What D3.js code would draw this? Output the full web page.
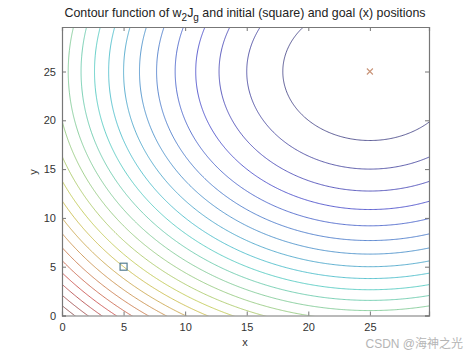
<!DOCTYPE html>
<meta charset="utf-8">
<script src="https://d3js.org/d3.v7.min.js"></script>
<style>
  body { margin: 0; background: #fff; }
  text { font-family: "Liberation Sans", Arial, sans-serif; }
</style>
<div id="chart"></div>
<script>
    // data: J = (x-25)^2 + (y-25)^2 on a grid, contour levels every 50
    var goal = [25, 25];
    var start = [5, 5];
    var levels = [50, 100, 150, 200, 250, 300, 350, 400, 450, 500, 550, 600,
                  650, 700, 750, 800, 850, 900, 950, 1000, 1050, 1100, 1150, 1200];
    var xTicks = [0, 5, 10, 15, 20, 25];
    var yTicks = [0, 5, 10, 15, 20, 25];

    var W = 474, H = 355;
    var margin = { top: 27, right: 45, bottom: 40, left: 62 };
    var width = W - margin.left - margin.right,
        height = 315.5 - margin.top;

    var svg = d3.select("#chart").append("svg")
        .attr("width", W).attr("height", H);

    var g = svg.append("g")
        .attr("transform", "translate(" + margin.left + "," + margin.top + ")");

    var x = d3.scaleLinear().domain([0, 29.8]).range([0, width]);
    var y = d3.scaleLinear().domain([0, 29.56]).range([height, 0]);

    // jet colormap, toned down a little like the washed-out original
    function jet(t) {
        function c(v) { return Math.max(0, Math.min(1, v)); }
        var r = c(1.5 - Math.abs(4 * t - 3)),
            gg = c(1.5 - Math.abs(4 * t - 2)),
            b = c(1.5 - Math.abs(4 * t - 1));
        return d3.interpolateRgb(d3.rgb(r * 255, gg * 255, b * 255), "#3a3a3a")(0.35);
    }

    // grid a bit larger than the axes, so the contour rings close outside the clip
    var x0 = -1, y0 = -1, step = 0.1, n = 321, m = 321;
    var values = new Array(n * m);
    for (var j = 0; j < m; j++) {
        for (var i = 0; i < n; i++) {
            var gx = x0 + i * step, gy = y0 + j * step;
            values[j * n + i] = Math.pow(gx - goal[0], 2) + Math.pow(gy - goal[1], 2);
        }
    }

    var contours = d3.contours().size([n, m]).thresholds(levels)(values);

    var proj = d3.geoTransform({
        point: function (px, py) {
            this.stream.point(x(x0 + (px - 0.5) * step), y(y0 + (py - 0.5) * step));
        }
    });
    var path = d3.geoPath(proj);

    g.append("clipPath").attr("id", "clip")
        .append("rect").attr("width", width).attr("height", height);

    g.append("g").attr("clip-path", "url(#clip)")
        .selectAll("path")
        .data(contours)
        .enter().append("path")
        .attr("d", path)
        .attr("fill", "none")
        .attr("stroke", function (d) { return jet((d.value - levels[0]) / (levels[levels.length - 1] - levels[0])); })
        .attr("stroke-opacity", 0.75)
        .attr("stroke-width", 0.9);

    // markers
    g.append("rect")
        .attr("x", x(start[0]) - 3.5).attr("y", y(start[1]) - 3.5)
        .attr("width", 7).attr("height", 7)
        .attr("fill", "none").attr("stroke", "#567e92").attr("stroke-width", 1.2);

    g.append("path")
        .attr("d", "M" + (x(goal[0]) - 3) + "," + (y(goal[1]) - 3) + "l6,6m0,-6l-6,6")
        .attr("stroke", "#c99478").attr("stroke-width", 1.1);

    // axes (MATLAB style: ticks inside, box on)
    var axColor = "#777";
    var tl = 4;
    var xa = g.append("g").attr("transform", "translate(0," + height + ")")
        .call(d3.axisBottom(x).tickValues(xTicks).tickSize(-tl).tickPadding(8));
    var xt = g.append("g")
        .call(d3.axisTop(x).tickValues(xTicks).tickSize(-tl).tickFormat(""));
    var ya = g.append("g")
        .call(d3.axisLeft(y).tickValues(yTicks).tickSize(-tl).tickPadding(6));
    var yr = g.append("g").attr("transform", "translate(" + width + ",0)")
        .call(d3.axisRight(y).tickValues(yTicks).tickSize(-tl).tickFormat(""));

    [xa, xt, ya, yr].forEach(function (a) {
        a.select(".domain").attr("stroke", axColor).attr("stroke-width", 1.2);
        a.selectAll(".tick line").attr("stroke", axColor);
        a.selectAll("text").attr("fill", "#333").style("font-size", "11px")
            .style("font-family", "'Liberation Sans', Arial, sans-serif");
    });

    // labels
    svg.append("text").attr("x", 245).attr("y", 346)
        .attr("text-anchor", "middle").attr("fill", "#333")
        .style("font-size", "11px").text("x");

    svg.append("text").attr("transform", "translate(37,172) rotate(-90)")
        .attr("text-anchor", "middle").attr("fill", "#333")
        .style("font-size", "11px").text("y");

    var title = svg.append("text").attr("x", 245).attr("y", 16.5)
        .attr("text-anchor", "middle").attr("fill", "#222")
        .style("font-size", "12.4px");
    title.append("tspan").text("Contour function of w");
    title.append("tspan").attr("dy", 4).style("font-size", "10px").text("2");
    title.append("tspan").attr("dy", -4).text("J");
    title.append("tspan").attr("dy", 4).style("font-size", "10px").text("g");
    title.append("tspan").attr("dy", -4).text(" and initial (square) and goal (x) positions");

    // watermark
    svg.append("text").attr("x", 463).attr("y", 348)
        .attr("text-anchor", "end").attr("fill", "#b5b5b5")
        .style("font-size", "12px")
        .style("font-family", "'Liberation Sans', 'Noto Sans CJK SC', sans-serif")
        .text("CSDN @海神之光");
</script>
